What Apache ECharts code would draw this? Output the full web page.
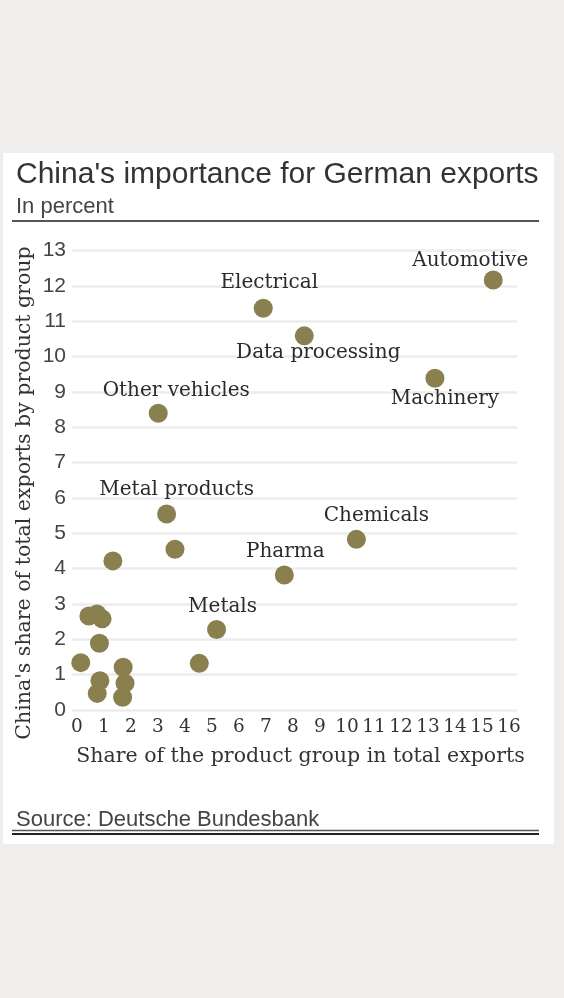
<!DOCTYPE html>
<html>
<head>
<meta charset="utf-8">
<script src="https://cdn.jsdelivr.net/npm/echarts@6/dist/echarts.min.js"></script>
<style>
html,body{margin:0;padding:0;background:#efeeec;}
#chart{width:564px;height:998px;}
</style>
</head>
<body>
<div id="chart"></div>
<script>
// ---- data ----
const categories = ['Automotive','Electrical','Data processing','Machinery','Other vehicles','Metal products','Chemicals','Pharma','Metals','','','','','','','','','','','','',''];
const shareOfTotalExports = [15.42, 6.90, 8.42, 13.26, 3.01, 3.32, 10.35, 7.68, 5.17, 3.63, 1.33, 4.53, 0.44, 0.74, 0.93, 0.83, 0.14, 0.85, 0.75, 1.71, 1.78, 1.69];
const chinaShare = [12.17, 11.37, 10.59, 9.39, 8.40, 5.55, 4.83, 3.82, 2.28, 4.55, 4.22, 1.32, 2.66, 2.72, 2.58, 1.89, 1.34, 0.83, 0.47, 1.21, 0.76, 0.36];
const xTickLabels = [0,1,2,3,4,5,6,7,8,9,10,11,12,13,14,15,16];
const yTickLabels = [0,1,2,3,4,5,6,7,8,9,10,11,12,13];

const titleText = "China's importance for German exports";
const subtitleText = 'In percent';
const xAxisTitle = 'Share of the product group in total exports';
const yAxisTitle = "China's share of total exports by product group";
const sourceText = 'Source: Deutsche Bundesbank';

// ---- label placement (style, not data) ----
const labelOffsets = {
  'Automotive': [-23, -19],
  'Electrical': [6, -25],
  'Data processing': [14, 17],
  'Machinery': [10, 21],
  'Other vehicles': [18, -22],
  'Metal products': [10, -24],
  'Chemicals': [20, -24],
  'Pharma': [1, -23],
  'Metals': [6, -23]
};

const points = categories.map((name, i) => {
  const item = { name: name, value: [shareOfTotalExports[i], chinaShare[i]] };
  if (name) {
    item.label = { show: true, offset: labelOffsets[name] || [0, -20] };
  }
  return item;
});

const serif = 'DejaVu Serif';
const sans = 'Liberation Sans';

const chart = echarts.init(document.getElementById('chart'), null, { renderer: 'canvas' });
chart.setOption({
  backgroundColor: '#efeeec',
  animation: false,
  grid: { left: 72, right: 47, top: 250.7, bottom: 288, containLabel: false },
  xAxis: {
    type: 'value',
    min: -0.185,
    max: 16.3,
    axisLine: { show: false },
    axisTick: { show: false },
    splitLine: { show: false },
    axisLabel: {
      customValues: xTickLabels,
      fontFamily: serif,
      fontSize: 18.5,
      color: '#333',
      margin: 8
    }
  },
  yAxis: {
    type: 'value',
    min: 0,
    max: 13,
    interval: 1,
    axisLine: { show: false },
    axisTick: { show: false },
    splitLine: { show: true, lineStyle: { color: '#ececec', width: 2.5 } },
    axisLabel: {
      fontFamily: sans,
      fontSize: 21,
      color: '#444',
      margin: 6,
      formatter: function (v) { return yTickLabels.indexOf(v) >= 0 ? String(v) : ''; }
    }
  },
  series: [{
    type: 'scatter',
    symbol: 'circle',
    symbolSize: 19,
    itemStyle: { color: '#8a804f', opacity: 1 },
    label: {
      show: false,
      position: 'inside',
      formatter: '{b}',
      fontFamily: serif,
      fontSize: 20,
      color: '#2b2b2b',
      align: 'center',
      verticalAlign: 'middle'
    },
    emphasis: { disabled: true },
    data: points
  }],
  graphic: [
    { type: 'rect', z: -10, shape: { x: 3, y: 153, width: 551, height: 691 }, style: { fill: '#ffffff' } },
    { type: 'text', x: 16, y: 175, style: { text: titleText, font: '30px "Liberation Sans"', fill: '#333', verticalAlign: 'middle' } },
    { type: 'text', x: 16, y: 207, style: { text: subtitleText, font: '22px "Liberation Sans"', fill: '#444', verticalAlign: 'middle' } },
    { type: 'line', shape: { x1: 12, y1: 221, x2: 539, y2: 221 }, style: { stroke: '#555', lineWidth: 2 } },
    { type: 'text', x: 25, y: 493, rotation: Math.PI / 2, style: { text: yAxisTitle, font: '20.5px "DejaVu Serif"', fill: '#333', align: 'center', verticalAlign: 'middle' } },
    { type: 'text', x: 300.5, y: 757, style: { text: xAxisTitle, font: '20.5px "DejaVu Serif"', fill: '#333', align: 'center', verticalAlign: 'middle' } },
    { type: 'text', x: 16, y: 820, style: { text: sourceText, font: '22px "Liberation Sans"', fill: '#444', verticalAlign: 'middle' } },
    { type: 'line', shape: { x1: 12, y1: 830.5, x2: 539, y2: 830.5 }, style: { stroke: '#555', lineWidth: 1.5 } },
    { type: 'line', shape: { x1: 12, y1: 834, x2: 539, y2: 834 }, style: { stroke: '#222', lineWidth: 2 } }
  ]
});
</script>
</body>
</html>
